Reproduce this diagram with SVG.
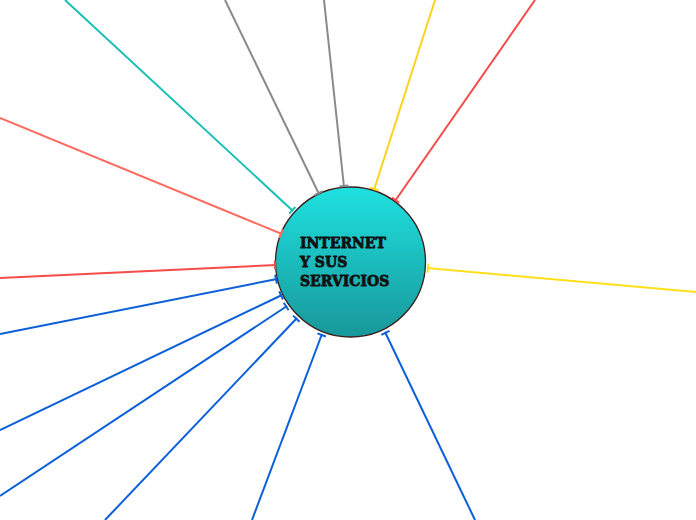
<svg xmlns="http://www.w3.org/2000/svg" width="696" height="520" viewBox="0 0 696 520">
<style>
.c{fill:none;stroke-width:2}
.lbl{font-family:"DejaVu Serif","Liberation Serif",serif;font-weight:900;font-size:14px;fill:#111;stroke:#111;stroke-width:0.8;stroke-linejoin:round}
</style>
<defs>
<linearGradient id="g" x1="0" y1="0" x2="0" y2="1">
<stop offset="0" stop-color="#1fe1e0"/>
<stop offset="1" stop-color="#18979a"/>
</linearGradient>
<marker id="tTeal" viewBox="0 0 4 10" refX="3" refY="5" markerWidth="4" markerHeight="10" markerUnits="userSpaceOnUse" orient="auto"><line x1="2" y1="0.5" x2="2" y2="9.5" stroke="#17bfb5" stroke-width="2"/></marker>
<marker id="tGray" viewBox="0 0 4 10" refX="3" refY="5" markerWidth="4" markerHeight="10" markerUnits="userSpaceOnUse" orient="auto"><line x1="2" y1="0.5" x2="2" y2="9.5" stroke="#8a8a8e" stroke-width="2"/></marker>
<marker id="tYel" viewBox="0 0 4 10" refX="3" refY="5" markerWidth="4" markerHeight="10" markerUnits="userSpaceOnUse" orient="auto"><line x1="2" y1="0.5" x2="2" y2="9.5" stroke="#ffd21f" stroke-width="2"/></marker>
<marker id="tRed" viewBox="0 0 4 10" refX="3" refY="5" markerWidth="4" markerHeight="10" markerUnits="userSpaceOnUse" orient="auto"><line x1="2" y1="0.5" x2="2" y2="9.5" stroke="#f54b4b" stroke-width="2"/></marker>
<marker id="tSal" viewBox="0 0 4 10" refX="3" refY="5" markerWidth="4" markerHeight="10" markerUnits="userSpaceOnUse" orient="auto"><line x1="2" y1="0.5" x2="2" y2="9.5" stroke="#ff6b5f" stroke-width="2"/></marker>
<marker id="tBlue" viewBox="0 0 4 10" refX="3" refY="5" markerWidth="4" markerHeight="10" markerUnits="userSpaceOnUse" orient="auto"><line x1="2" y1="0.5" x2="2" y2="9.5" stroke="#0b5fd9" stroke-width="2"/></marker>
<marker id="tYel2" viewBox="0 0 4 10" refX="3" refY="5" markerWidth="4" markerHeight="10" markerUnits="userSpaceOnUse" orient="auto"><line x1="2" y1="0.5" x2="2" y2="9.5" stroke="#ffe01a" stroke-width="2"/></marker>
</defs>
<rect width="696" height="520" fill="#fff"/>
<g id="node-internet">
<circle cx="350.5" cy="262" r="75" fill="url(#g)" stroke="#3a1a1a" stroke-width="1.3"/>
<text class="lbl" x="300" y="248">INTERNET</text>
<text class="lbl" x="300" y="267">Y SUS</text>
<text class="lbl" x="300" y="286">SERVICIOS</text>
</g>
<g id="connectors">
<line class="c" x1="65" y1="0" x2="293" y2="211" stroke="#17bfb5" marker-end="url(#tTeal)"/>
<line class="c" x1="225" y1="0" x2="319" y2="194" stroke="#8a8a8e" marker-end="url(#tGray)"/>
<line class="c" x1="324" y1="0" x2="344" y2="187" stroke="#8a8a8e" marker-end="url(#tGray)"/>
<line class="c" x1="435" y1="0" x2="374" y2="190" stroke="#ffd21f" marker-end="url(#tYel)"/>
<line class="c" x1="535" y1="0" x2="395" y2="201" stroke="#f54b4b" marker-end="url(#tRed)"/>
<line class="c" x1="0" y1="118" x2="282" y2="234" stroke="#ff6b5f" marker-end="url(#tSal)"/>
<line class="c" x1="0" y1="278" x2="276" y2="265" stroke="#f54b4b" marker-end="url(#tRed)"/>
<line class="c" x1="0" y1="334" x2="277" y2="279" stroke="#0b5fd9" marker-end="url(#tBlue)"/>
<line class="c" x1="0" y1="430" x2="282" y2="295" stroke="#0b5fd9" marker-end="url(#tBlue)"/>
<line class="c" x1="0" y1="496" x2="287" y2="306" stroke="#0b5fd9" marker-end="url(#tBlue)"/>
<line class="c" x1="105" y1="520" x2="297" y2="318" stroke="#0b5fd9" marker-end="url(#tBlue)"/>
<line class="c" x1="252" y1="520" x2="322" y2="334" stroke="#0b5fd9" marker-end="url(#tBlue)"/>
<line class="c" x1="475" y1="520" x2="385" y2="332" stroke="#0b5fd9" marker-end="url(#tBlue)"/>
<line class="c" x1="696" y1="292" x2="427" y2="268" stroke="#ffe01a" marker-end="url(#tYel2)"/>
</g>
</svg>
